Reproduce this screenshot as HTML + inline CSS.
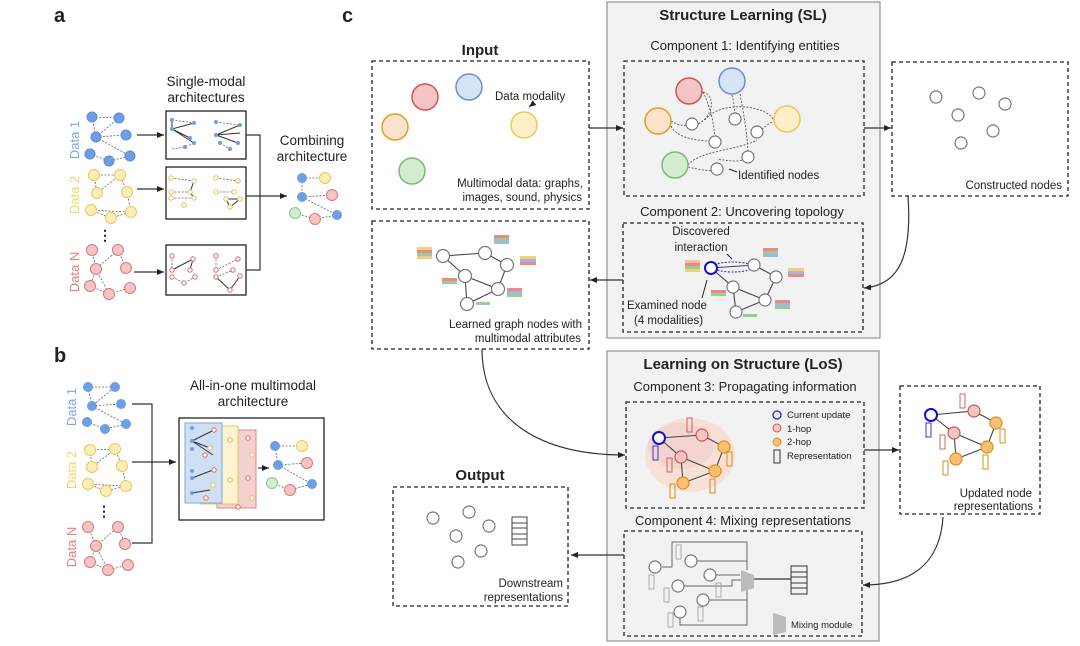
<!DOCTYPE html>
<html><head><meta charset="utf-8"><style>
html,body{margin:0;padding:0;background:#fff}
svg{display:block}
text{font-family:"Liberation Sans",Arial,sans-serif;fill:#222}
.d{fill:none;stroke:#222;stroke-width:1.3;stroke-dasharray:4 3}
.e{fill:none;stroke:#666;stroke-width:0.8;stroke-dasharray:2 1.5}
.l{stroke:#333;stroke-width:1.2;fill:none}
.g{fill:#fff;stroke:#777;stroke-width:1.2}
g[stroke] path{fill:none}
</style></head><body>
<svg width="1080" height="646" viewBox="0 0 1080 646" xmlns="http://www.w3.org/2000/svg">
<defs>
<marker id="ar" markerWidth="8" markerHeight="8" refX="7" refY="4" orient="auto" markerUnits="userSpaceOnUse"><path d="M0,1 L7,4 L0,7 z" fill="#222"/></marker>
</defs>
<text x="54" y="22" font-size="20" font-weight="bold">a</text>
<text x="342" y="22" font-size="20" font-weight="bold">c</text>
<text x="54" y="362" font-size="20" font-weight="bold">b</text>

<!-- ===== Panel a ===== -->
<text x="206" y="86" font-size="13.5" text-anchor="middle">Single-modal</text>
<text x="206" y="102" font-size="13.5" text-anchor="middle">architectures</text>
<text x="312" y="145" font-size="13.5" text-anchor="middle">Combining</text>
<text x="312" y="161" font-size="13.5" text-anchor="middle">architecture</text>
<text transform="translate(79,140) rotate(-90)" font-size="13" text-anchor="middle" style="fill:#7fa6e3">Data 1</text>
<text transform="translate(79,195) rotate(-90)" font-size="13" text-anchor="middle" style="fill:#f3d56b">Data 2</text>
<text transform="translate(79,272) rotate(-90)" font-size="13" text-anchor="middle" style="fill:#e57d7d">Data N</text>
<path class="e" d="M92,117 L119,118 M92,117 L96,137 M96,137 L119,118 M96,137 L126,135 M96,137 L130,156 M90,154 L109,161 L130,156"/>
<g fill="#6d9ee6" stroke="#5a8ad6"><circle cx="92" cy="117" r="5"/><circle cx="119" cy="118" r="5"/><circle cx="96" cy="137" r="5"/><circle cx="126" cy="135" r="5"/><circle cx="90" cy="154" r="5"/><circle cx="109" cy="161" r="5"/><circle cx="130" cy="156" r="5"/></g>
<path class="e" d="M94,175 L120,175 L127,192 M94,175 L97,193 M120,175 L97,193 M91,210 L127,212 M91,210 L111,218 L131,212 M127,192 L131,212"/>
<g fill="#fbeeba" stroke="#e8c95a"><circle cx="94" cy="175" r="5.5"/><circle cx="120" cy="175" r="5.5"/><circle cx="97" cy="193" r="5.5"/><circle cx="127" cy="192" r="5.5"/><circle cx="91" cy="210" r="5.5"/><circle cx="111" cy="218" r="5.5"/><circle cx="131" cy="212" r="5.5"/></g>
<text x="105" y="240" font-size="14" font-weight="bold" text-anchor="middle">⋮</text>
<path class="e" d="M92,250 L96,269 L118,250 M96,269 L90,286 M96,269 L109,294 M118,250 L126,268 M90,286 L109,294 L130,288"/>
<g fill="#f5c4c4" stroke="#d77"><circle cx="92" cy="250" r="5.5"/><circle cx="118" cy="250" r="5.5"/><circle cx="96" cy="269" r="5.5"/><circle cx="126" cy="268" r="5.5"/><circle cx="90" cy="286" r="5.5"/><circle cx="109" cy="294" r="5.5"/><circle cx="130" cy="288" r="5.5"/></g>
<path class="l" d="M137,135 L164,135" marker-end="url(#ar)"/><path class="l" d="M137,189 L164,189" marker-end="url(#ar)"/><path class="l" d="M134,272 L164,272" marker-end="url(#ar)"/>
<rect x="166" y="111" width="80" height="48" fill="#fff" stroke="#222" stroke-width="1.3"/>
<rect x="166" y="167" width="80" height="52" fill="#fff" stroke="#222" stroke-width="1.3"/>
<rect x="166" y="245" width="80" height="50" fill="#fff" stroke="#222" stroke-width="1.3"/>
<g stroke="#333" stroke-width="1"><path d="M172,129 L194,123 M172,129 L190,138 M172,129 L194,143 M172,129 L172,120 M216,135 L240,125 M216,135 L238,143 M216,135 L240,133"/></g>
<path class="e" d="M172,120 L194,123 M172,149 L185,147 L194,143 M216,122 L240,125 M220,143 L230,149"/>
<g fill="#6d9ee6"><circle cx="172" cy="120" r="2"/><circle cx="194" cy="123" r="2"/><circle cx="172" cy="129" r="2"/><circle cx="190" cy="138" r="2"/><circle cx="194" cy="143" r="2"/><circle cx="185" cy="147" r="2"/><circle cx="216" cy="122" r="2"/><circle cx="240" cy="125" r="2"/><circle cx="216" cy="135" r="2"/><circle cx="238" cy="143" r="2"/><circle cx="220" cy="143" r="2"/><circle cx="230" cy="149" r="2"/></g>
<g stroke="#333" stroke-width="1"><path d="M194,181 L190,192 L194,198 M226,199 L240,199 L230,207 L226,199"/></g>
<path class="e" d="M171,178 L194,181 M171,192 L190,192 M171,198 L194,198 M216,178 L238,181 M216,192 L234,192"/>
<g fill="#fff" stroke="#e0c050"><circle cx="171" cy="178" r="2.2"/><circle cx="194" cy="181" r="2.2"/><circle cx="171" cy="192" r="2.2"/><circle cx="190" cy="192" r="2.2"/><circle cx="171" cy="198" r="2.2"/><circle cx="194" cy="198" r="2.2"/><circle cx="184" cy="205" r="2.2"/><circle cx="216" cy="178" r="2.2"/><circle cx="238" cy="181" r="2.2"/><circle cx="216" cy="192" r="2.2"/><circle cx="234" cy="192" r="2.2"/><circle cx="226" cy="199" r="2.2"/><circle cx="240" cy="199" r="2.2"/><circle cx="230" cy="207" r="2.2"/></g>
<g stroke="#333" stroke-width="1"><path d="M172,270 L193,259 L190,270 M216,277 L230,290 L240,276"/></g>
<path class="e" d="M172,256 L172,270 M172,277 L184,283 L195,277 M216,256 L216,270 L238,259 M216,277 L233,270"/>
<g fill="#fff" stroke="#d66"><circle cx="172" cy="256" r="2.2"/><circle cx="193" cy="259" r="2.2"/><circle cx="172" cy="270" r="2.2"/><circle cx="190" cy="270" r="2.2"/><circle cx="172" cy="277" r="2.2"/><circle cx="195" cy="277" r="2.2"/><circle cx="184" cy="283" r="2.2"/><circle cx="216" cy="256" r="2.2"/><circle cx="238" cy="259" r="2.2"/><circle cx="216" cy="270" r="2.2"/><circle cx="233" cy="270" r="2.2"/><circle cx="216" cy="277" r="2.2"/><circle cx="240" cy="276" r="2.2"/><circle cx="230" cy="290" r="2.2"/></g>
<path class="l" d="M246,135 L260,135 L260,270 L246,270"/>
<path class="l" d="M246,196 L287,196" marker-end="url(#ar)"/>
<path class="e" d="M302,178 L325,178 M302,178 L302,197 M302,197 L332,195 M302,197 L337,215 M295,213 L315,219 L337,215"/>
<circle cx="302" cy="178" r="5" fill="#6d9ee6"/><circle cx="325" cy="178" r="5.5" fill="#fbeeba" stroke="#e8c95a"/><circle cx="302" cy="197" r="5" fill="#6d9ee6"/><circle cx="332" cy="195" r="5.5" fill="#f5c4c4" stroke="#d77"/><circle cx="295" cy="213" r="5.5" fill="#d4ecd0" stroke="#8c8"/><circle cx="315" cy="219" r="5.5" fill="#f5c4c4" stroke="#d77"/><circle cx="337" cy="215" r="5" fill="#6d9ee6"/>

<!-- ===== Panel b ===== -->
<text x="253" y="390" font-size="13.5" text-anchor="middle">All-in-one multimodal</text>
<text x="253" y="406" font-size="13.5" text-anchor="middle">architecture</text>
<text transform="translate(76,407) rotate(-90)" font-size="13" text-anchor="middle" style="fill:#7fa6e3">Data 1</text>
<text transform="translate(76,470) rotate(-90)" font-size="13" text-anchor="middle" style="fill:#f3d56b">Data 2</text>
<text transform="translate(76,547) rotate(-90)" font-size="13" text-anchor="middle" style="fill:#e57d7d">Data N</text>
<path class="e" d="M88,387 L115,387 M88,387 L92,406 L115,387 M92,406 L121,404 M92,406 L126,424 M87,422 L105,429 L126,424"/>
<g fill="#6d9ee6"><circle cx="88" cy="387" r="5"/><circle cx="115" cy="387" r="5"/><circle cx="92" cy="406" r="5"/><circle cx="121" cy="404" r="5"/><circle cx="87" cy="422" r="5"/><circle cx="105" cy="429" r="5"/><circle cx="126" cy="424" r="5"/></g>
<path class="e" d="M90,450 L115,449 L122,466 M90,450 L92,467 M115,449 L92,467 M88,484 L122,486 M88,484 L106,491 L126,486 M122,466 L126,486"/>
<g fill="#fbeeba" stroke="#e8c95a"><circle cx="90" cy="450" r="5.5"/><circle cx="115" cy="449" r="5.5"/><circle cx="92" cy="467" r="5.5"/><circle cx="122" cy="466" r="5.5"/><circle cx="88" cy="484" r="5.5"/><circle cx="106" cy="491" r="5.5"/><circle cx="126" cy="486" r="5.5"/></g>
<text x="104" y="516" font-size="14" font-weight="bold" text-anchor="middle">⋮</text>
<path class="e" d="M88,527 L96,546 L118,527 M96,546 L90,562 M96,546 L108,570 M118,527 L125,544 M90,562 L108,570 L128,565"/>
<g fill="#f5c4c4" stroke="#d77"><circle cx="88" cy="527" r="5.5"/><circle cx="118" cy="527" r="5.5"/><circle cx="96" cy="546" r="5.5"/><circle cx="125" cy="544" r="5.5"/><circle cx="90" cy="562" r="5.5"/><circle cx="108" cy="570" r="5.5"/><circle cx="128" cy="565" r="5.5"/></g>
<path class="l" d="M132,404 L152,404 L152,543 L132,543"/>
<path class="l" d="M132,462 L176,462" marker-end="url(#ar)"/>
<rect x="179" y="418" width="145" height="102" fill="#fff" stroke="#222" stroke-width="1.3"/>
<rect x="217" y="430" width="39" height="78" fill="#f5d0d0" stroke="#d88"/>
<rect x="200" y="426" width="38" height="78" fill="#fdf3d0" stroke="#e8c95a"/>
<rect x="185" y="423" width="37" height="80" fill="#cfe0f5" stroke="#7fa6e3"/>
<g stroke="#333" stroke-width="1"><path d="M192,441 L214,430 M192,441 L210,448 M192,441 L213,455 M192,478 L213,470 M192,493 L210,490"/></g>
<g fill="#6d9ee6"><circle cx="192" cy="428" r="2"/><circle cx="192" cy="441" r="2.2"/><circle cx="192" cy="449" r="2"/><circle cx="192" cy="471" r="2"/><circle cx="192" cy="478" r="2"/><circle cx="192" cy="493" r="2"/></g>
<g fill="#fff" stroke="#d66"><circle cx="214" cy="430" r="2.2"/><circle cx="205" cy="455" r="2.2"/><circle cx="214" cy="470" r="2.2"/><circle cx="206" cy="498" r="2.2"/><circle cx="248" cy="438" r="2.2"/><circle cx="248" cy="478" r="2.2"/><circle cx="238" cy="507" r="2.2"/></g>
<g fill="#fff" stroke="#e0c050"><circle cx="210" cy="448" r="2.2"/><circle cx="213" cy="485" r="2.2"/><circle cx="230" cy="440" r="2.2"/><circle cx="230" cy="480" r="2.2"/><circle cx="252" cy="455" r="2.2"/><circle cx="252" cy="498" r="2.2"/></g>
<path class="l" d="M258,468 L269,468" marker-end="url(#ar)" stroke-width="1"/>
<path class="e" d="M275,446 L302,446 M275,446 L278,465 M278,465 L307,463 M278,465 L312,484 M272,483 L290,490 L312,484"/>
<circle cx="275" cy="446" r="5" fill="#6d9ee6"/><circle cx="302" cy="446" r="5.5" fill="#fbeeba" stroke="#e8c95a"/><circle cx="278" cy="465" r="5" fill="#6d9ee6"/><circle cx="307" cy="463" r="5.5" fill="#f5c4c4" stroke="#d77"/><circle cx="272" cy="483" r="5.5" fill="#d4ecd0" stroke="#8c8"/><circle cx="290" cy="490" r="5.5" fill="#f5c4c4" stroke="#d77"/><circle cx="312" cy="484" r="5" fill="#6d9ee6"/>

<!-- ===== Panel c ===== -->
<rect x="607" y="2" width="273" height="336" fill="#f2f2f2" stroke="#999" stroke-width="1.3"/>
<rect x="607" y="351" width="272" height="290" fill="#f2f2f2" stroke="#999" stroke-width="1.3"/>
<text x="743" y="20" font-size="15" font-weight="bold" text-anchor="middle">Structure Learning (SL)</text>
<text x="745" y="50" font-size="13" text-anchor="middle">Component 1: Identifying entities</text>
<text x="742" y="216" font-size="13" text-anchor="middle">Component 2: Uncovering topology</text>
<text x="743" y="369" font-size="15" font-weight="bold" text-anchor="middle">Learning on Structure (LoS)</text>
<text x="745" y="391" font-size="13" text-anchor="middle">Component 3: Propagating information</text>
<text x="743" y="525" font-size="13" text-anchor="middle">Component 4: Mixing representations</text>
<text x="480" y="55" font-size="15" font-weight="bold" text-anchor="middle">Input</text>
<text x="480" y="480" font-size="15" font-weight="bold" text-anchor="middle">Output</text>

<rect class="d" x="372" y="61" width="217" height="148"/>
<rect class="d" x="372" y="221" width="217" height="128"/>
<rect class="d" x="624" y="61" width="240" height="135"/>
<rect class="d" x="623" y="223" width="240" height="109"/>
<rect class="d" x="892" y="62" width="176" height="134"/>
<rect class="d" x="626" y="402" width="238" height="106"/>
<rect class="d" x="900" y="386" width="140" height="128"/>
<rect class="d" x="624" y="531" width="238" height="105"/>
<rect class="d" x="393" y="487" width="175" height="119"/>

<!-- Input -->
<circle cx="425" cy="97" r="13" fill="#f5c4c4" stroke="#c55" stroke-width="1.5"/>
<circle cx="469" cy="87" r="13" fill="#d6e4f7" stroke="#6d8fc8" stroke-width="1.5"/>
<circle cx="395" cy="127" r="13" fill="#fde3cc" stroke="#e0a020" stroke-width="1.5"/>
<circle cx="524" cy="125" r="13" fill="#fdf0c8" stroke="#e8c95a" stroke-width="1.5"/>
<circle cx="412" cy="171" r="13" fill="#d4ecd0" stroke="#7b7" stroke-width="1.5"/>
<text x="495" y="100" font-size="11.5">Data modality</text>
<path d="M534,103 L529,107" stroke="#222" stroke-width="1" fill="none" marker-end="url(#ar)"/>
<text x="583" y="187" font-size="11.5" text-anchor="end">Multimodal data: graphs,</text>
<text x="582" y="201" font-size="11.5" text-anchor="end">images, sound, physics</text>
<path class="l" d="M589,128 L623,128" marker-end="url(#ar)"/>

<!-- Component 1 -->
<g fill="none" stroke="#555" stroke-width="0.9" stroke-dasharray="2 1.5">
<path d="M703,92 C715,95 715,115 698,124 M703,92 C712,110 715,130 715,142 M732,95 C735,108 735,112 735,119 M740,94 C745,120 748,140 748,157 M773,119 C765,105 720,100 705,120 M772,122 C765,126 762,130 757,132 M671,121 C680,126 683,126 692,124 M671,126 C678,140 700,140 715,142 M688,165 C700,150 740,150 757,140 M688,167 C700,170 710,171 717,171 M748,157 C740,165 720,158 717,160"/>
</g>
<circle cx="689" cy="91" r="13" fill="#f5c4c4" stroke="#c55" stroke-width="1.5"/>
<circle cx="732" cy="81" r="13" fill="#d6e4f7" stroke="#6d8fc8" stroke-width="1.5"/>
<circle cx="658" cy="121" r="13" fill="#fde3cc" stroke="#e0a020" stroke-width="1.5"/>
<circle cx="787" cy="119" r="13" fill="#fdf0c8" stroke="#e8c95a" stroke-width="1.5"/>
<circle cx="675" cy="165" r="13" fill="#d4ecd0" stroke="#7b7" stroke-width="1.5"/>
<g class="g" stroke-width="1"><circle cx="692" cy="124" r="6"/><circle cx="735" cy="119" r="6"/><circle cx="715" cy="142" r="6"/><circle cx="757" cy="132" r="6"/><circle cx="748" cy="157" r="6"/><circle cx="717" cy="169" r="6"/></g>
<text x="738" y="179" font-size="11.5">Identified nodes</text>
<path d="M737,172 L729,169" stroke="#222" stroke-width="1" fill="none"/>
<path class="l" d="M864,128 L891,128" marker-end="url(#ar)"/>

<!-- Constructed -->
<g class="g"><circle cx="936" cy="97" r="6"/><circle cx="979" cy="93" r="6"/><circle cx="1005" cy="104" r="6"/><circle cx="958" cy="115" r="6"/><circle cx="993" cy="131" r="6"/><circle cx="961" cy="143" r="6"/></g>
<text x="1062" y="189" font-size="11.5" text-anchor="end">Constructed nodes</text>
<path class="l" d="M908,196 C912,255 900,285 864,288" marker-end="url(#ar)"/>

<!-- Component 2 -->
<text x="701" y="235" font-size="11.5" text-anchor="middle">Discovered</text>
<text x="701" y="251" font-size="11.5" text-anchor="middle">interaction</text>
<path d="M727,254 L732,259" stroke="#222" stroke-width="1" fill="none"/>
<ellipse cx="733" cy="267" rx="20" ry="5" fill="none" stroke="#22c" stroke-width="1" stroke-dasharray="2 1.5"/>
<g stroke="#444" stroke-width="1.1"><path d="M711,268 L754,265 L776,277 L765,300 L733,287 L711,268 M733,287 L736,312 L765,300 M733,287 L765,300"/></g>
<g class="g"><circle cx="754" cy="265" r="6"/><circle cx="776" cy="277" r="6"/><circle cx="733" cy="287" r="6"/><circle cx="765" cy="300" r="6"/><circle cx="736" cy="312" r="6"/></g>
<circle cx="711" cy="268" r="6" fill="#fff" stroke="#11c" stroke-width="2"/>
<rect x="685" y="260" width="15" height="3" fill="#f5c890"/><rect x="685" y="263" width="15" height="3" fill="#e88"/><rect x="685" y="266" width="15" height="3" fill="#9c9"/><rect x="685" y="269" width="15" height="3" fill="#f5d07a"/>
<rect x="763" y="248" width="15" height="3" fill="#e88"/><rect x="763" y="251" width="15" height="3" fill="#9c9"/><rect x="763" y="254" width="15" height="3" fill="#9bd"/>
<rect x="788" y="268" width="16" height="3" fill="#f5d07a"/><rect x="788" y="271" width="16" height="3" fill="#9bd"/><rect x="788" y="274" width="16" height="3" fill="#e88"/>
<rect x="711" y="290" width="15" height="3" fill="#e88"/><rect x="711" y="293" width="15" height="3" fill="#9c9"/>
<rect x="775" y="300" width="15" height="3" fill="#e88"/><rect x="775" y="303" width="15" height="3" fill="#9bd"/><rect x="775" y="306" width="15" height="3" fill="#9c9"/>
<rect x="743" y="314" width="14" height="3" fill="#9c9"/>
<path d="M702,298 L707,280" stroke="#222" stroke-width="1" fill="none"/>
<text x="627" y="309" font-size="11.5">Examined node</text>
<text x="634" y="324" font-size="11.5">(4 modalities)</text>
<path class="l" d="M623,280 L590,280" marker-end="url(#ar)"/>

<!-- Learned graph -->
<g stroke="#444" stroke-width="1.1"><path d="M443,256 L485,253 L507,265 L498,289 L465,276 L443,256 M465,276 L467,304 L498,289 M465,276 L498,289"/></g>
<g class="g"><circle cx="443" cy="256" r="6.5"/><circle cx="485" cy="253" r="6.5"/><circle cx="507" cy="265" r="6.5"/><circle cx="465" cy="276" r="6.5"/><circle cx="498" cy="289" r="6.5"/><circle cx="467" cy="304" r="6.5"/></g>
<rect x="417" y="247" width="15" height="3" fill="#f5d07a"/><rect x="417" y="250" width="15" height="3" fill="#e88"/><rect x="417" y="253" width="15" height="3" fill="#9c9"/><rect x="417" y="256" width="15" height="3" fill="#f5c890"/>
<rect x="494" y="235" width="15" height="3" fill="#e88"/><rect x="494" y="238" width="15" height="3" fill="#9c9"/><rect x="494" y="241" width="15" height="3" fill="#9bd"/>
<rect x="520" y="256" width="16" height="3" fill="#f5d07a"/><rect x="520" y="259" width="16" height="3" fill="#9bd"/><rect x="520" y="262" width="16" height="3" fill="#e88"/>
<rect x="442" y="278" width="15" height="3" fill="#e88"/><rect x="442" y="281" width="15" height="3" fill="#9c9"/>
<rect x="507" y="288" width="15" height="3" fill="#e88"/><rect x="507" y="291" width="15" height="3" fill="#9bd"/><rect x="507" y="294" width="15" height="3" fill="#9c9"/>
<rect x="476" y="302" width="14" height="3" fill="#9c9"/>
<text x="582" y="328" font-size="11.5" text-anchor="end">Learned graph nodes with</text>
<text x="581" y="342" font-size="11.5" text-anchor="end">multimodal attributes</text>
<path class="l" d="M482,349 C482,420 540,455 625,455" marker-end="url(#ar)"/>

<!-- Component 3 -->
<ellipse cx="690" cy="455" rx="45" ry="37" fill="#f7dcd0" opacity="0.8"/>
<ellipse cx="681" cy="446" rx="33" ry="23" fill="#f2cccc" opacity="0.6"/>
<g stroke="#444" stroke-width="1.1"><path d="M659,438 L702,435 L724,447 L715,471 L683,483 M659,438 L681,457 L715,471 M681,457 L683,483"/></g>
<g fill="#f5c4c4" stroke="#c55" stroke-width="1.2"><circle cx="702" cy="435" r="6"/><circle cx="681" cy="457" r="6"/></g>
<g fill="#f8c070" stroke="#d89020" stroke-width="1.2"><circle cx="724" cy="447" r="6"/><circle cx="715" cy="471" r="6"/><circle cx="683" cy="483" r="6"/></g>
<circle cx="659" cy="438" r="6" fill="#fff" stroke="#11c" stroke-width="2"/>
<g fill="none" stroke-width="0.9"><rect x="653" y="446" width="5" height="14" stroke="#22c"/><rect x="687" y="418" width="5" height="14" stroke="#c55"/><rect x="667" y="458" width="5" height="14" stroke="#c55"/><rect x="727" y="452" width="5" height="14" stroke="#c80"/><rect x="710" y="479" width="5" height="14" stroke="#c80"/><rect x="670" y="484" width="5" height="14" stroke="#c80"/></g>
<circle cx="777" cy="415" r="4" fill="none" stroke="#22c" stroke-width="1.3"/>
<circle cx="777" cy="428" r="4" fill="#f5c4c4" stroke="#c55"/>
<circle cx="777" cy="442" r="4" fill="#f8c070" stroke="#d89020"/>
<rect x="774" y="450" width="6" height="13" fill="none" stroke="#222" stroke-width="0.9"/>
<g font-size="9.5"><text x="787" y="418">Current update</text><text x="787" y="432">1-hop</text><text x="787" y="445">2-hop</text><text x="787" y="459">Representation</text></g>
<path class="l" d="M864,450 L899,450" marker-end="url(#ar)"/>

<!-- Updated -->
<g stroke="#444" stroke-width="1.1"><path d="M931,415 L974,411 L996,423 L987,447 L956,459 M931,415 L954,433 L987,447 M954,433 L956,459"/></g>
<g fill="#f5c4c4" stroke="#c55" stroke-width="1.2"><circle cx="974" cy="411" r="6"/><circle cx="954" cy="433" r="6"/></g>
<g fill="#f8c070" stroke="#d89020" stroke-width="1.2"><circle cx="996" cy="423" r="6"/><circle cx="987" cy="447" r="6"/><circle cx="956" cy="459" r="6"/></g>
<circle cx="931" cy="415" r="6" fill="#fff" stroke="#11c" stroke-width="2"/>
<g fill="none" stroke-width="0.9"><rect x="926" y="423" width="5" height="14" stroke="#22c"/><rect x="960" y="394" width="5" height="14" stroke="#c55"/><rect x="940" y="435" width="5" height="14" stroke="#c55"/><rect x="1000" y="429" width="5" height="14" stroke="#c80"/><rect x="983" y="455" width="5" height="14" stroke="#c80"/><rect x="943" y="461" width="5" height="14" stroke="#c80"/></g>
<text x="1032" y="497" font-size="11.5" text-anchor="end">Updated node</text>
<text x="1033" y="510" font-size="11.5" text-anchor="end">representations</text>
<path class="l" d="M943,517 C940,565 910,585 863,585" marker-end="url(#ar)"/>

<!-- Component 4 -->
<g stroke="#666" stroke-width="1" fill="none">
<path d="M662,567 L672,567 L672,542 L747,542 L747,570 M691,561 L747,561 M710,575 L740,575 M678,586 L732,586 L732,580 L741,580 M703,600 L747,600 L747,585 M680,611 L680,625 L747,625 L747,600"/>
</g>
<g class="g" stroke="#999"><circle cx="655" cy="567" r="6"/><circle cx="691" cy="561" r="6"/><circle cx="710" cy="575" r="6"/><circle cx="678" cy="586" r="6"/><circle cx="703" cy="600" r="6"/><circle cx="680" cy="612" r="6"/></g>
<g fill="none" stroke="#999" stroke-width="0.8"><rect x="649" y="575" width="5" height="14"/><rect x="676" y="545" width="5" height="14"/><rect x="664" y="588" width="5" height="14"/><rect x="716" y="583" width="5" height="14"/><rect x="668" y="613" width="5" height="14"/><rect x="698" y="607" width="5" height="14"/></g>
<path d="M741,570 L754,575 L754,588 L741,592 z" fill="#bbb"/>
<path class="l" d="M754,579 L791,579" stroke-width="1"/>
<rect x="791" y="566" width="16" height="28" fill="none" stroke="#333" stroke-width="1"/>
<path d="M791,572 H807 M791,577 H807 M791,583 H807 M791,588 H807" fill="none" stroke="#333" stroke-width="1"/>
<path d="M773,613 L786,617 L786,632 L773,635 z" fill="#bbb"/>
<text x="791" y="628" font-size="9.5">Mixing module</text>
<path class="l" d="M624,555 L571,555" marker-end="url(#ar)"/>

<!-- Output -->
<g class="g"><circle cx="433" cy="518" r="6"/><circle cx="469" cy="512" r="6"/><circle cx="489" cy="526" r="6"/><circle cx="456" cy="536" r="6"/><circle cx="481" cy="551" r="6"/><circle cx="458" cy="562" r="6"/></g>
<rect x="512" y="517" width="15" height="28" fill="none" stroke="#444" stroke-width="1"/>
<path d="M512,523 H527 M512,528 H527 M512,534 H527 M512,539 H527" fill="none" stroke="#444" stroke-width="1"/>
<text x="563" y="587" font-size="11.5" text-anchor="end">Downstream</text>
<text x="563" y="601" font-size="11.5" text-anchor="end">representations</text>
</svg>
</body></html>
